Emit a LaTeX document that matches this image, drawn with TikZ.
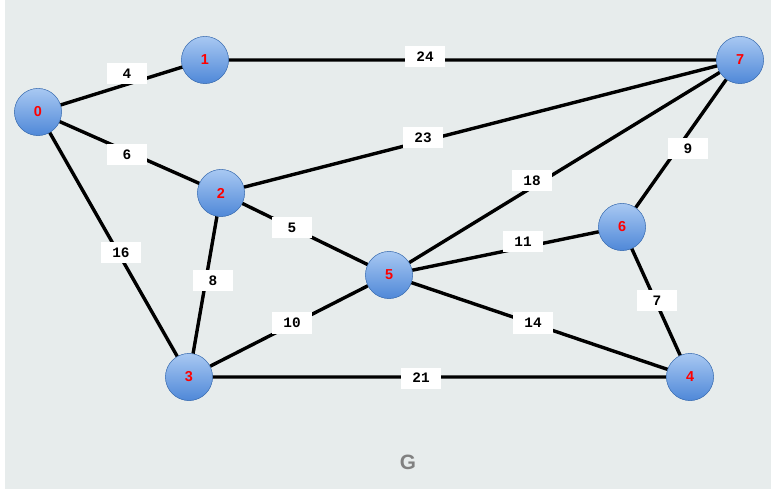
\documentclass[tikz,border=0pt]{standalone}
\usepackage{fontspec}
\setmainfont{Liberation Sans}
\newfontfamily\monob{Liberation Mono}
\definecolor{bg}{HTML}{E7ECEC}
\definecolor{ntop}{HTML}{A8C8F2}
\definecolor{nbot}{HTML}{4F88D8}
\definecolor{nedge}{HTML}{3E6FB0}
\begin{document}
\begin{tikzpicture}[x=1pt,y=-1pt,
 v/.style={circle,minimum size=47pt,inner sep=0pt,draw=nedge,top color=ntop,bottom color=nbot,text=red,font=\bfseries\Large},
 e/.style={line width=3.4pt,black},
 w/.style={fill=white,inner sep=1.5pt,minimum width=40pt,minimum height=21pt,font=\monob\bfseries\Large}]
\useasboundingbox (0,0) rectangle (771,494);
\fill[white] (0,0) rectangle (771,494);
\fill[bg] (5,0) rectangle (771,489);
\node[v] (n0) at (38,112) {0};
\node[v] (n1) at (205,60) {1};
\node[v] (n7) at (740,60) {7};
\node[v] (n2) at (221,193) {2};
\node[v] (n6) at (622,227) {6};
\node[v] (n5) at (389,275) {5};
\node[v] (n3) at (189,377) {3};
\node[v] (n4) at (690,377) {4};
\draw[e] (n0)--(n1) (n1)--(n7) (n0)--(n2) (n2)--(n7) (n5)--(n7) (n6)--(n7)
 (n0)--(n3) (n2)--(n5) (n5)--(n6) (n2)--(n3) (n3)--(n5) (n5)--(n4) (n6)--(n4) (n3)--(n4);
\node[v] at (n0) {0};\node[v] at (n1) {1};\node[v] at (n7) {7};\node[v] at (n2) {2};
\node[v] at (n6) {6};\node[v] at (n5) {5};\node[v] at (n3) {3};\node[v] at (n4) {4};
\node[w] (l4) at (127,74) {4};
\node[w] (l24) at (425,57) {24};
\node[w] (l6) at (127,155) {6};
\node[w] (l23) at (423,138) {23};
\node[w] (l18) at (532,181) {18};
\node[w] (l9) at (688,149) {9};
\node[w] (l16) at (121,253) {16};
\node[w] (l5) at (292,228) {5};
\node[w] (l11) at (523,242) {11};
\node[w] (l8) at (213,281) {8};
\node[w] (l10) at (292,323) {10};
\node[w] (l14) at (533,323) {14};
\node[w] (l7) at (657,301) {7};
\node[w] (l21) at (421,378) {21};
\node[text=gray,font=\bfseries\huge] (g) at (408,462) {G};
\end{tikzpicture}
\end{document}
